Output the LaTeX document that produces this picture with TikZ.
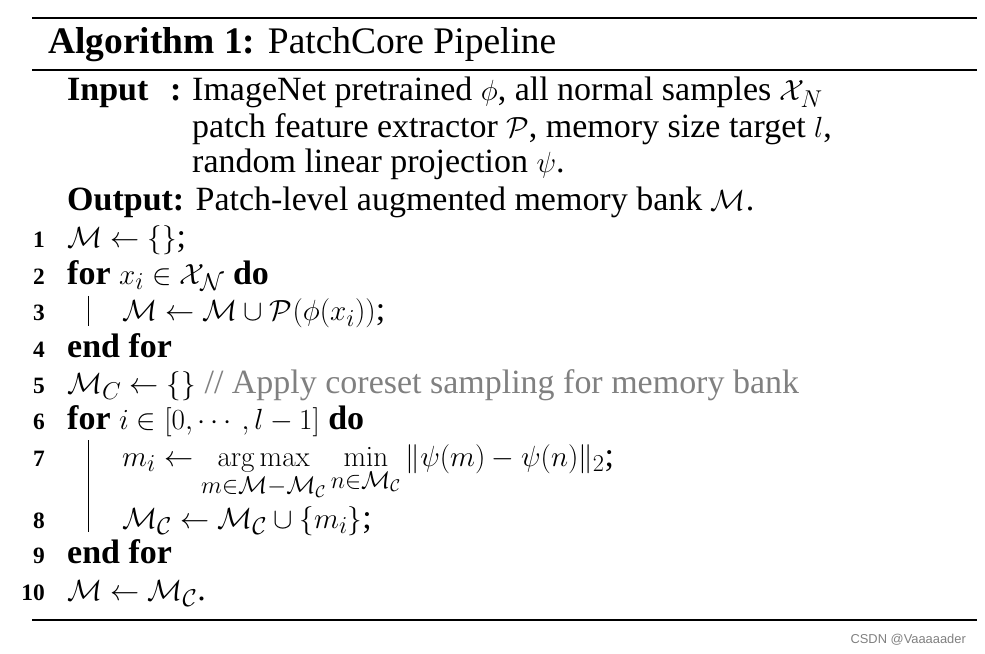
\documentclass[tikz,border=0pt]{standalone}
\usepackage{amsmath}
\usepackage{amssymb}
\usepackage[no-math]{fontspec}
\setmainfont{Liberation Serif}
\newfontfamily\wmfont{Liberation Sans}
\tikzset{
  ln/.style={anchor=base east,font=\fontsize{20}{24}\selectfont\bfseries},
  tx/.style={anchor=base west,inner sep=0pt},
  rule/.style={line width=2.2pt}
}
\begin{document}
\begin{tikzpicture}[x=0.03cm,y=-0.03cm,font=\fontsize{29}{34}\selectfont]
\useasboundingbox (0,0) rectangle (985,654);
% rules
\draw[rule] (32,18) -- (977,18);
\draw[line width=1.2pt] (32,70) -- (977,70);
\draw[rule] (32,620) -- (977,620);
\node[tx,font=\fontsize{32}{36}\selectfont] (title) at (48,54) {\textbf{Algorithm 1:} PatchCore Pipeline};
% input / output
\node[tx] (inp) at (67,101) {\textbf{Input}};
\node[tx] (inpc) at (170,101) {\textbf{:}};
\node[tx] (in1) at (192,101) {ImageNet pretrained $\phi$, all normal samples $\mathcal{X}_N$};
\node[tx] (in2) at (192,138) {patch feature extractor $\mathcal{P}$, memory size target $l$,};
\node[tx] (in3) at (192,173) {random linear projection $\psi$.};
\node[tx] (out) at (67,211) {\textbf{Output:} Patch-level augmented memory bank $\mathcal{M}$.};
% line numbers
\foreach \n/\y in {1/248,2/284,3/321,4/357,5/393,6/429,7/466,8/528,9/563,10/600}
  \node[ln] (n\n) at (49,\y) {\n};
% body
\node[tx] (l1) at (67,248) {$\mathcal{M}\leftarrow\{\}$;};
\node[tx] (l2) at (67,284) {\textbf{for} $x_i\in\mathcal{X_N}$ \textbf{do}};
\node[tx] (l3) at (122,321) {$\mathcal{M}\leftarrow\mathcal{M}\cup\mathcal{P}(\phi(x_i))$;};
\node[tx] (l4) at (67,357) {\textbf{end for}};
\node[tx] (l5) at (67,393) {$\mathcal{M}_C\leftarrow\{\}$ \textcolor{gray}{// Apply coreset sampling for memory bank}};
\node[tx] (l6) at (67,429) {\textbf{for} $i\in[0,\cdots,l-1]$ \textbf{do}};
\node[tx] (l7) at (122,466) {$m_i\leftarrow\mathop{\arg\max}\limits_{m\in\mathcal{M}-\mathcal{M_C}}\min\limits_{n\in\mathcal{M_C}}\|\psi(m)-\psi(n)\|_2$;};
\node[tx] (l8) at (122,528) {$\mathcal{M_C}\leftarrow\mathcal{M_C}\cup\{m_i\}$;};
\node[tx] (l9) at (67,563) {\textbf{end for}};
\node[tx] (l10) at (67,600) {$\mathcal{M}\leftarrow\mathcal{M_C}$.};
% block bars
\draw[line width=0.8pt] (88,296) -- (88,326);
\draw[line width=0.8pt] (88,440) -- (88,532);
\node[anchor=base east,text=gray,font=\wmfont\fontsize{11}{13}\selectfont] (wm) at (970,643) {CSDN @Vaaaaader};
\end{tikzpicture}
\end{document}
